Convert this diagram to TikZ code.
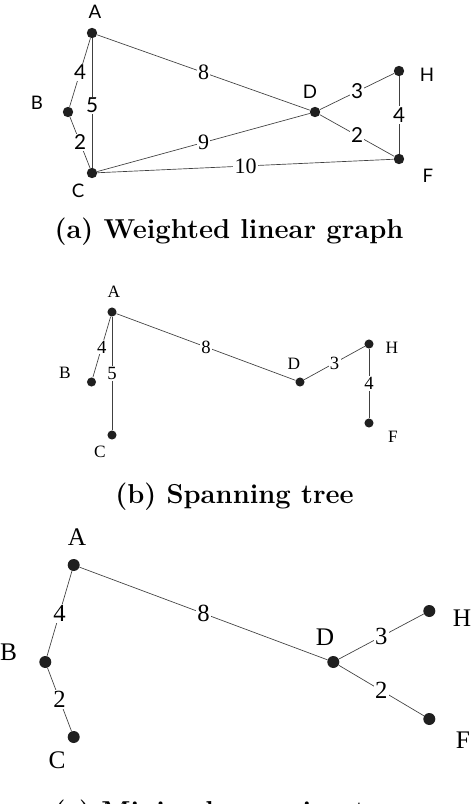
\documentclass[tikz,border=0pt]{standalone}
\usepackage{fontspec}
\newfontfamily\sansfam{Lato}
\newfontfamily\seriffam{Liberation Serif}
\begin{document}
\begin{tikzpicture}[x=0.75pt,y=-0.75pt,
  edge/.style={draw=black!75,line width=0.5pt},
  dotA/.style={circle,fill=black!88,inner sep=0pt,minimum size=7.8pt},
  dotB/.style={circle,fill=black!88,inner sep=0pt,minimum size=6.8pt},
  dotC/.style={circle,fill=black!88,inner sep=0pt,minimum size=9pt},
  ltrA/.style={font=\sansfam\fontsize{14}{16}\selectfont,inner sep=0pt},
  labA/.style={font=\sansfam\fontsize{15.5}{17}\selectfont,fill=white,inner sep=1pt},
  labAs/.style={font=\seriffam\fontsize{16.5}{18}\selectfont,fill=white,inner sep=1pt},
  ltrB/.style={font=\seriffam\fontsize{13}{15}\selectfont,inner sep=0pt},
  labB/.style={font=\seriffam\fontsize{14}{16}\selectfont,fill=white,inner sep=1pt},
  ltrC/.style={font=\seriffam\fontsize{19}{21}\selectfont,inner sep=0pt},
  labC/.style={font=\seriffam\fontsize{18.5}{21}\selectfont,fill=white,inner sep=1pt},
  capt/.style={font=\fontsize{20.5}{24}\selectfont\bfseries,inner sep=0pt,anchor=base}]
\clip (0,0) rectangle (472,804);
\fill[white] (0,0) rectangle (472,804);
% ---------- (a) ----------
\node[dotA] (aA) at (92,33) {};
\node[dotA] (aB) at (68,112) {};
\node[dotA] (aC) at (92,173) {};
\node[dotA] (aD) at (315,112) {};
\node[dotA] (aH) at (399,71) {};
\node[dotA] (aF) at (399,159) {};
\node[ltrA] (laA) at (95,12) {A};
\node[ltrA] (laB) at (37,103) {B};
\node[ltrA] (laC) at (78,191) {C};
\node[ltrA] (laD) at (310,92) {D};
\node[ltrA] (laH) at (427,75) {H};
\node[ltrA] (laF) at (428,176) {F};
\draw[edge] (aA) -- node[labA]{4} (aB);
\draw[edge] (aA) -- node[labA,pos=0.52]{5} (aC);
\draw[edge] (aB) -- node[labA]{2} (aC);
\draw[edge] (aA) -- node[labAs]{8} (aD);
\draw[edge] (aC) -- node[labAs]{9} (aD);
\draw[edge] (aC) -- node[labAs]{10} (aF);
\draw[edge] (aD) -- node[labA]{3} (aH);
\draw[edge] (aD) -- node[labA]{2} (aF);
\draw[edge] (aH) -- node[labA]{4} (aF);
\node[capt] (capa) at (229,238) {(a) Weighted linear graph};
% ---------- (b) ----------
\node[dotB] (bA) at (112,312) {};
\node[dotB] (bB) at (91.5,382) {};
\node[dotB] (bC) at (112,435) {};
\node[dotB] (bD) at (300,382) {};
\node[dotB] (bH) at (369,344) {};
\node[dotB] (bF) at (369,423) {};
\node[ltrB] (lbA) at (114,292) {A};
\node[ltrB] (lbB) at (65,373) {B};
\node[ltrB] (lbC) at (100,452) {C};
\node[ltrB] (lbD) at (294,364) {D};
\node[ltrB] (lbH) at (392,348) {H};
\node[ltrB] (lbF) at (393,437) {F};
\draw[edge] (bA) -- node[labB]{4} (bB);
\draw[edge] (bA) -- node[labB]{5} (bC);
\draw[edge] (bA) -- node[labB]{8} (bD);
\draw[edge] (bD) -- node[labB]{3} (bH);
\draw[edge] (bH) -- node[labB]{4} (bF);
\node[capt] (capb) at (234.5,503) {(b) Spanning tree};
% ---------- (c) ----------
\node[dotC] (cA) at (73.7,565) {};
\node[dotC] (cB) at (45.3,662) {};
\node[dotC] (cC) at (73.7,737) {};
\node[dotC] (cD) at (333.3,662) {};
\node[dotC] (cH) at (429.3,611) {};
\node[dotC] (cF) at (429.3,719) {};
\node[ltrC] (lcA) at (77,537) {A};
\node[ltrC] (lcB) at (8.5,652) {B};
\node[ltrC] (lcC) at (57,760) {C};
\node[ltrC] (lcD) at (325,637) {D};
\node[ltrC] (lcH) at (462,618) {H};
\node[ltrC] (lcF) at (463,740) {F};
\draw[edge] (cA) -- node[labC]{4} (cB);
\draw[edge] (cB) -- node[labC]{2} (cC);
\draw[edge] (cA) -- node[labC]{8} (cD);
\draw[edge] (cD) -- node[labC]{3} (cH);
\draw[edge] (cD) -- node[labC]{2} (cF);
\node[capt] (capc) at (230,820.5) {(c) Minimal spanning tree};
\end{tikzpicture}
\end{document}
